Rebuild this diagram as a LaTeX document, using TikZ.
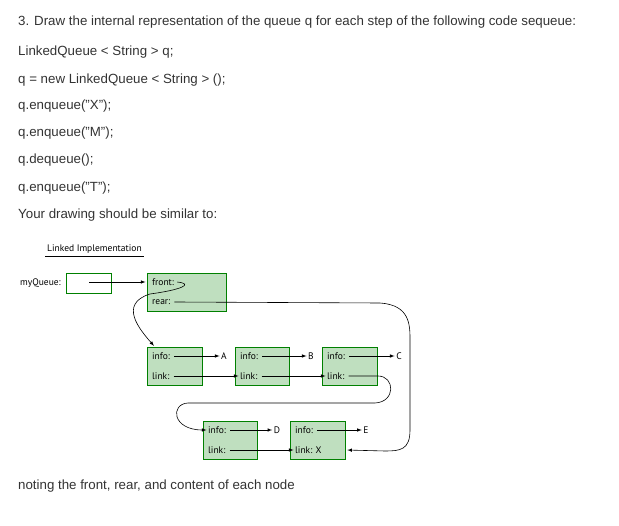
\documentclass[tikz,border=0pt]{standalone}
\usepackage{fontspec}
\setmainfont{Liberation Sans}
\newfontfamily\dfont{PT Sans}
\begin{document}
\begin{tikzpicture}[x=1pt,y=-1pt,
  txt/.style={anchor=west,inner sep=0pt,font=\fontsize{13.3}{15}\selectfont,text=black!80},
  box/.style={draw=green!50!black,fill=green!50!black!25,line width=0.8pt,minimum width=#1,minimum height=38,inner sep=0,anchor=north west},
  lab/.style={anchor=west,inner sep=0pt,font=\dfont\fontsize{9.5}{11}\selectfont},
  ar/.style={-latex,line width=0.6pt,shorten >=1.5pt}]
\useasboundingbox (0,0) rectangle (619,526);
\node[txt] (t1) at (18,22) {3. Draw the internal representation of the queue q for each step of the following code sequeue:};
\node[txt] (t2) at (18,52) {LinkedQueue < String > q;};
\node[txt] (t3) at (18,80) {q = new LinkedQueue < String > ();};
\node[txt] (t4) at (18,106) {q.enqueue("X");};
\node[txt] (t5) at (18,133) {q.enqueue("M");};
\node[txt] (t6) at (18,160) {q.dequeue();};
\node[txt] (t7) at (18,188) {q.enqueue("T");};
\node[txt] (t8) at (18,215) {Your drawing should be similar to:};
\node[txt] (t9) at (18,486) {noting the front, rear, and content of each node};
\node[lab] (li) at (47,249) {Linked Implementation};
\draw[line width=0.6pt] (li.south west)++(-2,3) coordinate (u1) -- ++(99,0) coordinate (u2);
\node[lab] (mq) at (20,283) {myQueue:};
\node[draw=green!50!black,line width=0.8pt,minimum width=45,minimum height=20,inner sep=0,anchor=north west] (mqb) at (66,273) {};
\node[box=79] (fr) at (147,273) {};
\node[lab] (frl) at (152,282) {front:};
\node[lab] (rel) at (152,302) {rear:};
\coordinate (mqs) at (89,282);
\draw[ar] (mqs) -- (fr.west|-mqs);
\foreach \n/\x/\y/\w/\lt in {a/147/347/55/link:,b/235/347/54/link:,c/322/347/55/link:,d/203/421/54/link:,e/290/421/55/link: X}{
  \node[box=\w] (\n) at (\x,\y) {};
  \node[lab] (\n i) at (\x+5,\y+9) {info:};
  \node[lab] (\n l) at (\x+5,\y+29) {\lt};
}
\node[lab,anchor=center] (A) at (224,356) {A};
\node[lab,anchor=center] (B) at (311,356) {B};
\node[lab,anchor=center] (C) at (399,356) {C};
\node[lab,anchor=center] (D) at (277,430) {D};
\node[lab,anchor=center] (E) at (366,430) {E};
\foreach \n/\t in {a/A,b/B,c/C,d/D,e/E}{
  \draw[ar] ([xshift=4pt]\n i.east) -- (\t.west);
}
\draw[ar] ([xshift=4pt]al.east) -- (bl.west);
\draw[ar] ([xshift=4pt]bl.east) -- (cl.west);
\draw[ar] ([xshift=4pt]dl.east) -- (el.west);
\draw[ar] ([xshift=4pt]cl.east) -- (378,376) .. controls (395,376) and (396,402) .. (375,403) -- (188,403) .. controls (170,404) and (172,430) .. (di.west);
\draw[ar] ([xshift=3pt]frl.east) .. controls (195,284) and (180,290) .. (150,294) .. controls (118,304) and (140,330) .. ([xshift=8pt]a.north west);
\draw[ar] ([xshift=4pt]rel.east) -- (380,303) .. controls (410,305) and (410,325) .. (410,340) -- (410,430) .. controls (410,450) and (400,451) .. (385,451) -- (e.east|-el);
\end{tikzpicture}
\end{document}
